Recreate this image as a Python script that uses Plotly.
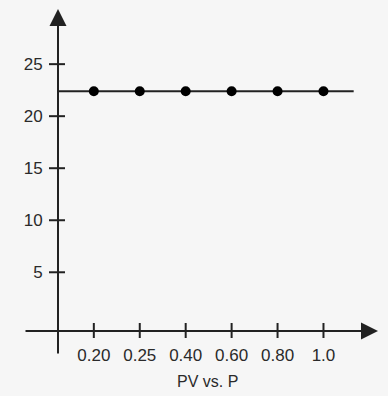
import plotly.graph_objects as go

# ---- data ----
categories = ["0.20", "0.25", "0.40", "0.60", "0.80", "1.0"]
pv_values = [22.4, 22.4, 22.4, 22.4, 22.4, 22.4]
y_ticks = [5, 10, 15, 20, 25]
x_title = "PV vs. P"

AX = "#222222"
TXT = "#2a2a2a"
FONT = "Liberation Sans, Arial, sans-serif"

W, H = 388, 396
ML, MR, MT, MB = 58, 10, 9, 65
PLOT_H = H - MT - MB

fig = go.Figure()
fig.add_trace(go.Scatter(
    x=list(range(len(categories))), y=pv_values, mode="markers",
    marker=dict(color="#000000", size=10),
    showlegend=False, hoverinfo="skip",
))

shapes = []
# horizontal line through the points
shapes.append(dict(type="line", xref="x domain", yref="y",
                   x0=0, x1=0.924, y0=pv_values[0], y1=pv_values[-1],
                   line=dict(color=AX, width=2), layer="below"))
# y ticks crossing the axis
for t in y_ticks:
    shapes.append(dict(type="line", xref="x domain", yref="y",
                       xsizemode="pixel", xanchor=0, x0=-9, x1=7,
                       y0=t, y1=t, line=dict(color=AX, width=2)))
# x ticks crossing the axis
for i in range(len(categories)):
    shapes.append(dict(type="line", xref="x", yref="y domain",
                       ysizemode="pixel", yanchor=0, y0=-7, y1=8,
                       x0=i, x1=i, line=dict(color=AX, width=2)))

annotations = [
    # y axis arrow
    dict(xref="x domain", yref="y domain", x=0, y=1, ax=0, ay=346,
         axref="pixel", ayref="pixel", showarrow=True, arrowhead=2,
         arrowsize=1.7, arrowwidth=2, arrowcolor=AX, text=""),
    # x axis arrow
    dict(xref="x domain", yref="y domain", x=1, y=0, ax=-354, ay=0,
         axref="pixel", ayref="pixel", showarrow=True, arrowhead=2,
         arrowsize=1.7, arrowwidth=2, arrowcolor=AX, text=""),
    # x title
    dict(xref="x domain", yref="y domain", x=0.467,
         y=-(381.7 - (H - MB)) / PLOT_H,
         xanchor="center", yanchor="middle", showarrow=False,
         text=x_title, font=dict(family=FONT, size=16, color=TXT)),
]

fig.update_layout(
    width=W, height=H,
    margin=dict(l=ML, r=MR, t=MT, b=MB, pad=0),
    paper_bgcolor="#f6f6f6", plot_bgcolor="#f6f6f6",
    font=dict(family=FONT, size=17, color=TXT),
    shapes=shapes, annotations=annotations,
    xaxis=dict(range=[-0.78, 6.187], tickmode="array",
               tickvals=list(range(len(categories))), ticktext=categories,
               showgrid=False, zeroline=False, showline=False,
               ticks="outside", ticklen=9, tickcolor="rgba(0,0,0,0)",
               fixedrange=True),
    yaxis=dict(range=[-0.644, 30.3], tickmode="array", tickvals=y_ticks,
               showgrid=False, zeroline=False, showline=False,
               ticks="outside", ticklen=11, tickcolor="rgba(0,0,0,0)",
               fixedrange=True),
)

fig.write_html("out.html", config={"displayModeBar": False})
